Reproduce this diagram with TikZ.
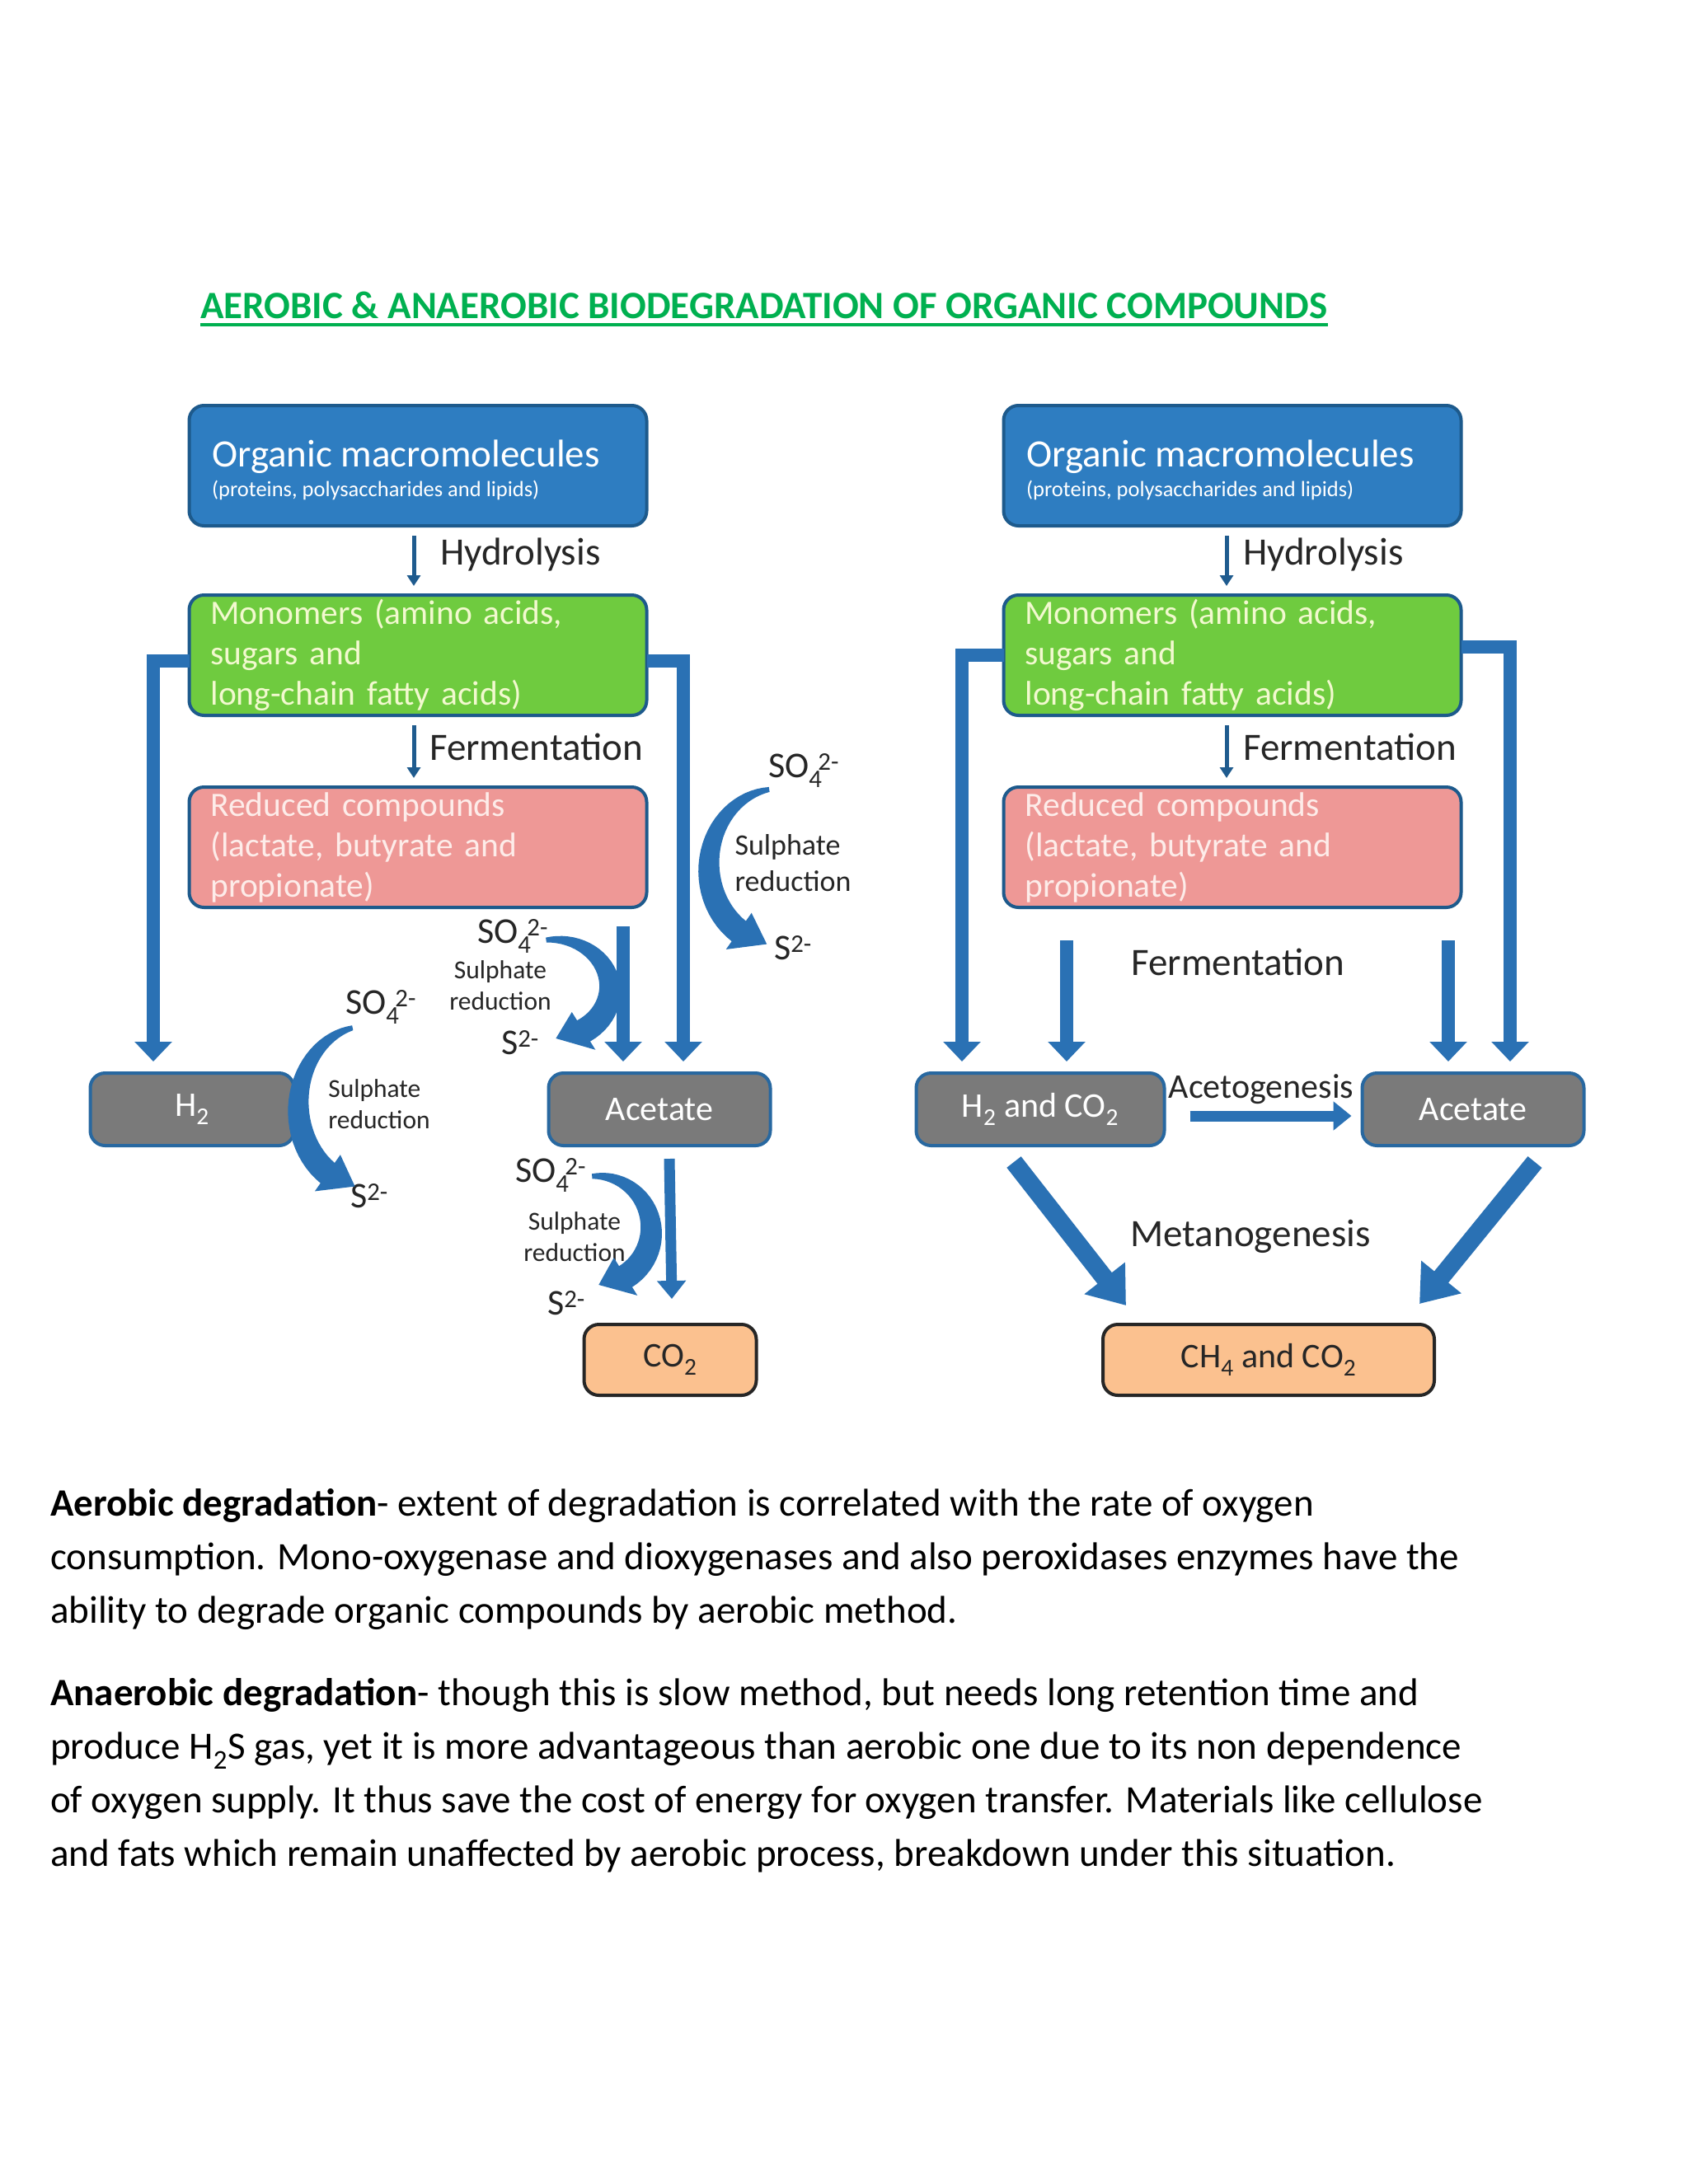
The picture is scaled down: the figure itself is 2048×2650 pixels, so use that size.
\documentclass[tikz,border=0pt]{standalone}
\usepackage{fontspec}
\setmainfont{Carlito}
\usetikzlibrary{arrows.meta,calc}
\definecolor{boxblue}{HTML}{2E7DC1}
\definecolor{boxedge}{HTML}{1D5A8C}
\definecolor{boxgreen}{HTML}{6FCB3F}
\definecolor{greentext}{HTML}{F2F9CF}
\definecolor{boxpink}{HTML}{EE9896}
\definecolor{pinktext}{HTML}{FDECE9}
\definecolor{boxgray}{HTML}{7A7A7A}
\definecolor{grayedge}{HTML}{2868A0}
\definecolor{boxorange}{HTML}{FBC18F}
\definecolor{arrblue}{HTML}{2A71B4}
\definecolor{thinblue}{HTML}{1F5B8E}
\definecolor{labtext}{HTML}{262626}
\definecolor{titlegreen}{HTML}{00B050}
\newcommand\crescentarrow[9]{%
\fill[arrblue] plot[domain=#5:#6,samples=30,variable=\t]
 ({#1+(#3+(#8+(#9-#8)*sin(90*(\t-#5)/(#6-#5))))*cos(\t)},{#2+(#4+(#8+(#9-#8)*sin(90*(\t-#5)/(#6-#5))))*sin(\t)})
 -- ({#1+(#3+1.8*#9)*cos(#6)},{#2+(#4+1.8*#9)*sin(#6)})
 -- ({#1+#3*cos(#7)},{#2+#4*sin(#7)})
 -- ({#1+(#3-1.8*#9)*cos(#6)},{#2+(#4-1.8*#9)*sin(#6)})
 -- plot[domain=#6:#5,samples=30,variable=\t]
 ({#1+(#3-(#8+(#9-#8)*sin(90*(\t-#5)/(#6-#5))))*cos(\t)},{#2+(#4-(#8+(#9-#8)*sin(90*(\t-#5)/(#6-#5))))*sin(\t)})
 -- cycle;}
\newcommand\sofour{SO\textsubscript{4}\kern-5pt\textsuperscript{2-}}
\newcommand\stwo{S\textsuperscript{2-}}
\begin{document}
\begin{tikzpicture}[x=1pt,y=-1pt,
  boxbase/.style={rounded corners=18pt, line width=4pt, inner xsep=24pt, inner ysep=0pt},
  bluebox/.style={boxbase, fill=boxblue, draw=boxedge, minimum width=555pt, minimum height=146pt},
  bluetitle/.style={text=white, inner sep=0pt, anchor=base west, font=\fontsize{47}{50}\selectfont},
  bluesub/.style={text=white, inner sep=0pt, anchor=base west, font=\fontsize{26.5}{30}\selectfont},
  greenbox/.style={boxbase, fill=boxgreen, draw=boxedge, text=greentext, minimum width=555pt, minimum height=146pt, text width=503pt, align=left, font=\fontsize{41.5}{49}\selectfont},
  pinkbox/.style={boxbase, fill=boxpink, draw=boxedge, text=pinktext, minimum width=555pt, minimum height=146pt, text width=503pt, align=left, font=\fontsize{41.5}{49}\selectfont},
  graybox/.style={boxbase, fill=boxgray, draw=grayedge, text=white, minimum height=88pt, font=\fontsize{42}{48}\selectfont},
  orangebox/.style={boxbase, fill=boxorange, draw=black!85, text=labtext, minimum height=86pt, font=\fontsize{42}{48}\selectfont},
  lab/.style={text=labtext, inner sep=0pt, font=\fontsize{47}{54}\selectfont},
  srbig/.style={text=labtext, inner sep=0pt, align=left, font=\fontsize{36}{44}\selectfont},
  srsmall/.style={text=labtext, inner sep=0pt, font=\fontsize{31.5}{38}\selectfont},
  chem/.style={text=labtext, inner sep=0pt, font=\fontsize{44}{50}\selectfont},
  thinarr/.style={draw=thinblue, line width=5pt, -{Triangle[width=16pt,length=13pt]}},
  bigarr/.style={draw=arrblue, line width=16pt, -{Triangle[width=44pt,length=24pt]}},
  midarr/.style={draw=arrblue, line width=13pt, -{Triangle[width=34pt,length=22pt]}},
  diagarr/.style={draw=arrblue, line width=22pt, -{Triangle[width=60pt,length=42pt]}},
  body/.style={text=black, inner sep=0pt, font=\fontsize{47}{56}\selectfont}
]
\useasboundingbox (0,0) rectangle (2048,2650);
\fill[white] (0,0) rectangle (2048,2650);

% Title
\node[anchor=base west, inner sep=0pt, text=titlegreen, font=\fontsize{47}{54}\selectfont\bfseries] (title) at (243,386) {AEROBIC \& ANAEROBIC BIODEGRADATION OF ORGANIC COMPOUNDS};
\draw[titlegreen, line width=3.5pt] ($(title.base west)+(0,8)$) -- ($(title.base east)+(0,8)$);

% ---------- Left (aerobic/sulphate) diagram ----------
\node[bluebox] (orgL) at (507,565) {};
\node[bluetitle] (orgLa) at (257,566) {Organic macromolecules};
\node[bluesub] (orgLb) at (257,602) {(proteins, polysaccharides and lipids)};
\node[greenbox] (monL) at (507,795) {Monomers (amino acids,\\sugars and\\long-chain fatty acids)};
\node[pinkbox] (redL) at (507,1028) {Reduced compounds\\(lactate, butyrate and\\propionate)};
\node[graybox, minimum width=247pt] (h2L) at (233,1346) {H\textsubscript{2}};
\node[graybox, minimum width=269pt] (accL) at (800,1346) {Acetate};
\node[orangebox, minimum width=209pt] (co2L) at (813,1650) {CO\textsubscript{2}};

\node[lab, anchor=west] (hydL) at (534,673) {Hydrolysis};
\node[lab, anchor=west] (ferL) at (521,906) {Fermentation};
\draw[thinarr] ($(orgL.south)+(-5,10)$) -- ($(monL.north)+(-5,-9)$);
\draw[thinarr] ($(monL.south)+(-5,10)$) -- ($(redL.north)+(-5,-9)$);

\draw[bigarr] ($(monL.west)+(2,7)$) -| ($(h2L.north)+(-47,-12)$);
\draw[bigarr] ($(monL.east)+(-2,7)$) -| ($(accL.north)+(29,-12)$);
\draw[bigarr] ($(accL.north)+(-44,-176)$) -- ($(accL.north)+(-44,-12)$);
\draw[midarr] ($(accL.south)+(12,14)$) -- ($(co2L.north)+(2,-29)$);

% sulphate reduction (right top)
\node[chem] (so4a) at (975,935) {\sofour};
\node[srbig] (sra) at (962,1047) {Sulphate\\reduction};
\node[chem] (s2a) at (962,1150) {\stwo};
\crescentarrow{945}{1052}{85}{95}{262}{125}{100}{3}{15}

% sulphate reduction (middle)
\node[chem] (so4b) at (622,1136) {\sofour};
\node[srsmall, align=center] (srb) at (607,1196) {Sulphate\\reduction};
\node[chem] (s2b) at (631,1265) {\stwo};
\crescentarrow{672}{1200}{68}{60}{262}{418}{448}{3}{15}

% sulphate reduction (left)
\node[chem] (so4c) at (462,1222) {\sofour};
\node[srsmall, align=left] (src) at (460,1340) {Sulphate\\reduction};
\node[chem] (s2c) at (448,1451) {\stwo};
\crescentarrow{445}{1343}{83}{98}{258}{125}{100}{3}{15}

% sulphate reduction (bottom)
\node[chem] (so4d) at (668,1426) {\sofour};
\node[srsmall, align=center] (srd) at (697,1501) {Sulphate\\reduction};
\node[chem] (s2d) at (687,1581) {\stwo};
\crescentarrow{724}{1493}{66}{66}{265}{418}{448}{3}{15}

% ---------- Right (anaerobic/methanogenic) diagram ----------
\node[bluebox] (orgR) at (1495,565) {};
\node[bluetitle] (orgRa) at (1245,566) {Organic macromolecules};
\node[bluesub] (orgRb) at (1245,602) {(proteins, polysaccharides and lipids)};
\node[greenbox] (monR) at (1495,795) {Monomers (amino acids,\\sugars and\\long-chain fatty acids)};
\node[pinkbox] (redR) at (1495,1028) {Reduced compounds\\(lactate, butyrate and\\propionate)};
\node[graybox, minimum width=301pt] (h2co2) at (1262,1346) {H\textsubscript{2} and CO\textsubscript{2}};
\node[graybox, minimum width=269pt] (accR) at (1787,1346) {Acetate};
\node[orangebox, minimum width=402pt] (ch4) at (1539,1650) {CH\textsubscript{4} and CO\textsubscript{2}};

\node[lab, anchor=west] (hydR) at (1508,673) {Hydrolysis};
\node[lab, anchor=west] (ferR) at (1508,906) {Fermentation};
\draw[thinarr] ($(orgR.south)+(-7,10)$) -- ($(monR.north)+(-7,-9)$);
\draw[thinarr] ($(monR.south)+(-7,10)$) -- ($(redR.north)+(-7,-9)$);

\draw[bigarr] ($(monR.west)+(2,0)$) -| ($(h2co2.north)+(-95,-12)$);
\draw[bigarr] ($(monR.east)+(-2,-10)$) -| ($(accR.north)+(45,-12)$);
\draw[bigarr] ($(h2co2.north)+(32,-159)$) -- ($(h2co2.north)+(32,-12)$);
\draw[bigarr] ($(accR.north)+(-30,-159)$) -- ($(accR.north)+(-30,-12)$);
\node[lab] (ferM) at (1502,1167) {Fermentation};

\node[text=labtext, inner sep=0pt, font=\fontsize{42}{48}\selectfont] (acg) at (1530,1322) {Acetogenesis};
\draw[midarr] ($(h2co2.east)+(29,8)$) -- ($(accR.west)+(-11,8)$);

\node[lab] (met) at (1517,1500) {Metanogenesis};
\draw[diagarr] (1230,1410) -- (1366,1584);
\draw[diagarr] (1862,1410) -- (1722,1582);

% ---------- Body text ----------
\node[body, anchor=base west] (p1a) at (61,1839) {\textbf{Aerobic degradation}- extent of degradation is correlated with the rate of oxygen};
\node[body, anchor=base west] (p1b) at (61,1904) {consumption. Mono-oxygenase and dioxygenases and also peroxidases enzymes have the};
\node[body, anchor=base west] (p1c) at (61,1969) {ability to degrade organic compounds by aerobic method.};
\node[body, anchor=base west] (p2a) at (61,2069) {\textbf{Anaerobic degradation}- though this is slow method, but needs long retention time and};
\node[body, anchor=base west] (p2b) at (61,2134) {produce H\textsubscript{2}S gas, yet it is more advantageous than aerobic one due to its non dependence};
\node[body, anchor=base west] (p2c) at (61,2199) {of oxygen supply. It thus save the cost of energy for oxygen transfer. Materials like cellulose};
\node[body, anchor=base west] (p2d) at (61,2264) {and fats which remain unaffected by aerobic process, breakdown under this situation.};
\end{tikzpicture}
\end{document}
